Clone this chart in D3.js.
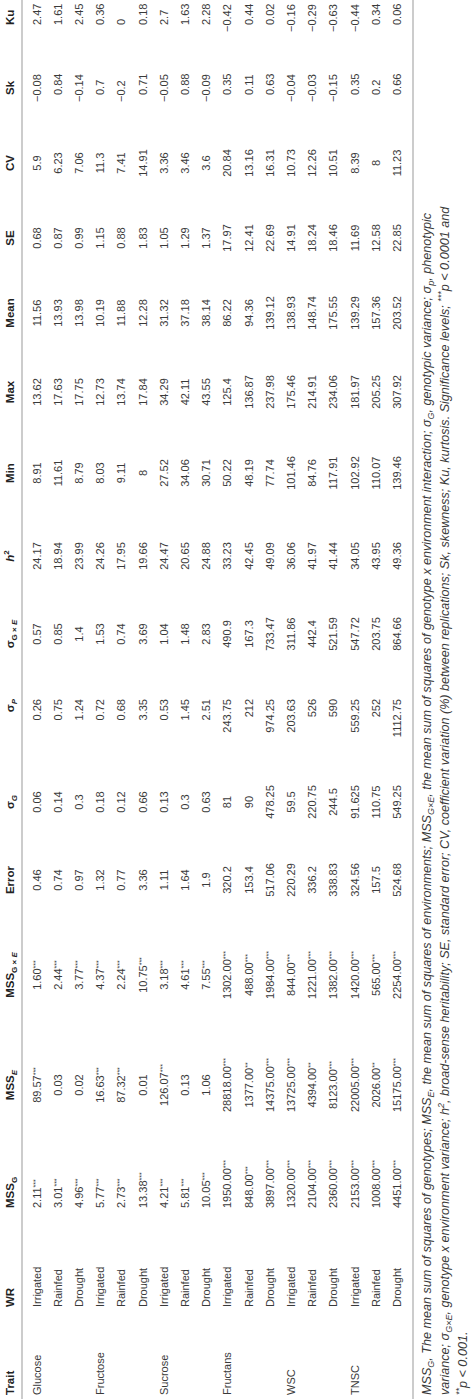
<!DOCTYPE html>
<html lang="en">
<head>
<meta charset="UTF-8">
<title>Table</title>
<script src="https://cdn.jsdelivr.net/npm/d3@7"></script>
<style>
  body { margin: 0; background: #fff; }
  text { font-family: "Liberation Sans", Arial, sans-serif; fill: #3a3a3a; }
  .hd { font-weight: bold; font-size: 11.5px; fill: #222; }
  .cell { font-size: 11px; }
  .foot { font-size: 12.6px; font-style: italic; }
</style>
</head>
<body>
<svg width="474" height="1399"></svg>
<script>
// table data
var traits = ["Glucose", "", "", "Fructose", "", "", "Sucrose", "", "", "Fructans", "", "", "WSC", "", "", "TNSC", "", ""];
var regimes = ["Irrigated", "Rainfed", "Drought"];
var mssG = ["2.11***","3.01***","4.96***","5.77***","2.73***","13.38***","4.21***","5.81***","10.05***","1950.00***","848.00***","3897.00***","1320.00***","2104.00***","2360.00***","2153.00***","1008.00***","4451.00***"];
var mssE = ["89.57***","0.03","0.02","16.63***","87.32***","0.01","126.07***","0.13","1.06","28818.00***","1377.00**","14375.00***","13725.00***","4394.00**","8123.00***","22005.00***","2026.00**","15175.00***"];
var mssGE = ["1.60***","2.44***","3.77***","4.37***","2.24***","10.75***","3.18***","4.61***","7.55***","1302.00***","488.00***","1984.00***","844.00***","1221.00***","1382.00***","1420.00***","565.00***","2254.00***"];
var errorV = [0.46,0.74,0.97,1.32,0.77,3.36,1.11,1.64,1.9,320.2,153.4,517.06,220.29,336.2,338.83,324.56,157.5,524.68];
var sigG = [0.06,0.14,0.3,0.18,0.12,0.66,0.13,0.3,0.63,81,90,478.25,59.5,220.75,244.5,91.625,110.75,549.25];
var sigP = [0.26,0.75,1.24,0.72,0.68,3.35,0.53,1.45,2.51,243.75,212,974.25,203.63,526,590,559.25,252,1112.75];
var sigGE = [0.57,0.85,1.4,1.53,0.74,3.69,1.04,1.48,2.83,490.9,167.3,733.47,311.86,442.4,521.59,547.72,203.75,864.66];
var h2 = [24.17,18.94,23.99,24.26,17.95,19.66,24.47,20.65,24.88,33.23,42.45,49.09,36.06,41.97,41.44,34.05,43.95,49.36];
var minV = [8.91,11.61,8.79,8.03,9.11,8,27.52,34.06,30.71,50.22,48.19,77.74,101.46,84.76,117.91,102.92,110.07,139.46];
var maxV = [13.62,17.63,17.75,12.73,13.74,17.84,34.29,42.11,43.55,125.4,136.87,237.98,175.46,214.91,234.06,181.97,205.25,307.92];
var meanV = [11.56,13.93,13.98,10.19,11.88,12.28,31.32,37.18,38.14,86.22,94.36,139.12,138.93,148.74,175.55,139.29,157.36,203.52];
var seV = [0.68,0.87,0.99,1.15,0.88,1.83,1.05,1.29,1.37,17.97,12.41,22.69,14.91,18.24,18.46,11.69,12.58,22.85];
var cvV = [5.9,6.23,7.06,11.3,7.41,14.91,3.36,3.46,3.6,20.84,13.16,16.31,10.73,12.26,10.51,8.39,8,11.23];
var skV = [-0.08,0.84,-0.14,0.7,-0.2,0.71,-0.05,0.88,-0.09,0.35,0.11,0.63,-0.04,-0.03,-0.15,0.35,0.2,0.66];
var kuV = [2.47,1.61,2.45,0.36,0,0.18,2.7,1.63,2.28,-0.42,0.44,0.02,-0.16,-0.29,-0.63,-0.44,0.34,0.06];

var W = 1399, H = 474;
var svg = d3.select("svg");
// draw the table unrotated, then turn it 90deg counter-clockwise
var g = svg.append("g").attr("transform", "translate(0," + W + ") rotate(-90)");

var nRows = traits.length;
var y = d3.scaleLinear().domain([0, nRows - 1]).range([36.7, 397]);

function fmt(v) { return (v < 0 ? "\u2212" : "") + Math.abs(v); }

var columns = [
  {head: [["Trait"]], vals: traits, x: 4, anchor: "start"},
  {head: [["WR"]], vals: traits.map(function(d, i) { return regimes[i % 3]; }), x: 92, anchor: "start"},
  {head: [["MSS"], ["G", "sub"]], vals: mssG, x: 191, anchor: "start"},
  {head: [["MSS"], ["E", "subi"]], vals: mssE, x: 314, anchor: "middle"},
  {head: [["MSS"], ["G \u00d7 ", "sub"], ["E", "subi"]], vals: mssGE, x: 424, anchor: "middle"},
  {head: [["Error"]], vals: errorV, x: 519, anchor: "middle"},
  {head: [["\u03c3"], ["G", "subi"]], vals: sigG, x: 597, anchor: "middle"},
  {head: [["\u03c3"], ["P", "subi"]], vals: sigP, x: 700, anchor: "end"},
  {head: [["\u03c3"], ["G \u00d7 ", "sub"], ["E", "subi"]], vals: sigGE, x: 765, anchor: "middle"},
  {head: [["h", "it"], ["2", "sup"]], vals: h2, x: 843, anchor: "middle"},
  {head: [["Min"]], vals: minV, x: 926, anchor: "middle"},
  {head: [["Max"]], vals: maxV, x: 1007, anchor: "middle"},
  {head: [["Mean"]], vals: meanV, x: 1086, anchor: "middle"},
  {head: [["SE"]], vals: seV, x: 1161, anchor: "middle"},
  {head: [["CV"]], vals: cvV, x: 1236, anchor: "middle"},
  {head: [["Sk"]], vals: skV, x: 1304, anchor: "start", signed: true},
  {head: [["Ku"]], vals: kuV, x: 1374, anchor: "start", signed: true}
];

// appends text pieces, tracking baseline shift for sub/superscripts
function addParts(t, parts, small) {
  var shift = 0;
  parts.forEach(function(p) {
    var ts = t.append("tspan").text(p[0]);
    var k = p[1];
    var want = (k === "sub" || k === "subi") ? 3 : (k === "sup" ? -5 : 0);
    if (k === "sub" || k === "subi" || k === "sup") ts.attr("font-size", small);
    if (k === "subi" || k === "it") ts.attr("font-style", "italic");
    if (want !== shift) { ts.attr("dy", want - shift); shift = want; }
  });
}

columns.forEach(function(c) {
  var ht = g.append("text").attr("class", "hd")
    .attr("x", c.x).attr("y", 14).attr("text-anchor", c.anchor);
  addParts(ht, c.head, "8px");

  g.append("g").selectAll("text")
    .data(c.vals)
    .join("text")
    .attr("class", "cell")
    .attr("x", function(d) { return (c.signed && d < 0) ? c.x - 7 : c.x; })
    .attr("y", function(d, i) { return y(i) + 4; })
    .attr("text-anchor", c.anchor)
    .each(function(d) {
      var t = d3.select(this);
      if (typeof d === "number") { t.text(fmt(d)); return; }
      var m = d.match(/^([^*]*)(\**)$/);
      t.append("tspan").text(m[1]);
      if (m[2]) t.append("tspan").attr("font-size", "7px").attr("dy", -3).text(m[2]);
    });
});

// rules
g.append("line").attr("x1", 0).attr("x2", W).attr("y1", 22).attr("y2", 22)
  .attr("stroke", "#999").attr("stroke-width", 1);
g.append("line").attr("x1", 0).attr("x2", W).attr("y1", 413).attr("y2", 413)
  .attr("stroke", "#999").attr("stroke-width", 1);

// footnote
var foot = [
  [["MSS"], ["G", "sub"], [", The mean sum of squares of genotypes; MSS"], ["E", "sub"], [", the mean sum of squares of environments; MSS"], ["G\u00d7E", "sub"], [", the mean sum of squares of genotype x environment interaction; \u03c3"], ["G", "sub"], [", genotypic variance; \u03c3"], ["p", "sub"], [", phenotypic"]],
  [["variance; \u03c3"], ["G\u00d7E", "sub"], [", genotype x environment variance; h"], ["2", "sup"], [", broad-sense heritability; SE, standard error; CV, coefficient variation (%) between replications; Sk, skewness; Ku, kurtosis. Significance levels; "], ["***", "sup"], ["p < 0.0001 and"]],
  [["**", "sup"], ["p < 0.001."]]
];
foot.forEach(function(line, i) {
  var t = g.append("text").attr("class", "foot").attr("x", 4).attr("y", 431 + i * 18);
  addParts(t, line, "9px");
});
</script>
</body>
</html>
